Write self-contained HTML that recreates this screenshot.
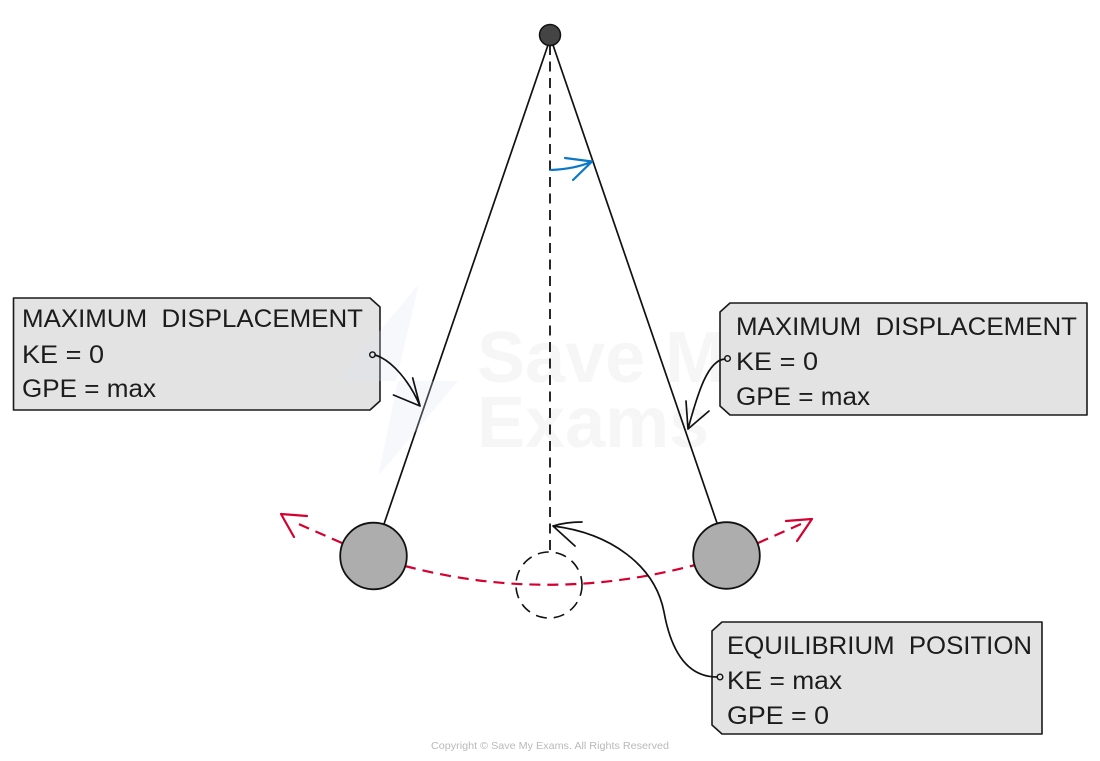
<!DOCTYPE html>
<html>
<head>
<meta charset="utf-8">
<style>
html,body{margin:0;padding:0;background:#fff;width:1100px;height:761px;overflow:hidden}
svg{display:block}
text{font-family:"Liberation Sans",sans-serif;white-space:pre}
.t{font-size:25px;fill:#1c1c1c}
.k{fill:none;stroke:#111;stroke-width:1.7;stroke-linecap:round;stroke-linejoin:round}
.b{fill:#e3e3e3;stroke:#1a1a1a;stroke-width:1.6;stroke-linejoin:round}
.r{fill:none;stroke:#d5002f;stroke-width:2.2;stroke-dasharray:11 7}
.rh{fill:none;stroke:#d5002f;stroke-width:2.2;stroke-linecap:round;stroke-linejoin:round}
</style>
</head>
<body>
<svg width="1100" height="761" viewBox="0 0 1100 761" xmlns="http://www.w3.org/2000/svg">
<text x="477" y="382" font-size="72" font-weight="bold" fill="#f6f6f6">Save My</text>
<text x="477" y="447" font-size="72" font-weight="bold" fill="#f6f6f6">Exams</text>

<!-- pendulum strings -->
<line x1="548" y1="45" x2="384" y2="524" class="k"/>
<line x1="553" y1="45" x2="717" y2="523" class="k"/>
<line x1="550" y1="45" x2="550" y2="552" fill="none" stroke="#111" stroke-width="1.8" stroke-dasharray="10 6.5"/>

<!-- red path -->
<path d="M405,566 Q549,604 695,565" class="r"/>
<path d="M342,543 L294,522" class="r"/>
<path d="M758,543 L801,524" class="r"/>
<path d="M307,516 L281,514 L294,537" class="rh"/>
<path d="M786,521 L812,519 L797,541" class="rh"/>

<!-- balls -->
<circle cx="549" cy="585" r="33" fill="none" stroke="#111" stroke-width="1.6" stroke-dasharray="11 7"/>
<circle cx="373.5" cy="556" r="33.3" fill="#adadad" stroke="#111" stroke-width="1.8"/>
<circle cx="726.5" cy="555.5" r="33.3" fill="#adadad" stroke="#111" stroke-width="1.8"/>
<circle cx="550" cy="35" r="10.5" fill="#444" stroke="#111" stroke-width="1.5"/>

<!-- blue arrow -->
<path d="M551,170 Q575,169 592,161.5 M565,158 L592,161.5 L573,180" fill="none" stroke="#0a78c8" stroke-width="2.2" stroke-linecap="round" stroke-linejoin="round"/>

<!-- boxes -->
<polygon class="b" points="13.5,298 370,298 380,307 380,401 370,410 13.5,410"/>
<polygon class="b" points="730,303 1087,303 1087,415 730,415 720,406 720,312"/>
<polygon class="b" points="722,622 1042,622 1042,734 722,734 712,725 712,631"/>

<!-- bolt watermark -->
<polygon points="419,284 338,381 398,381 378,476 458,381 396,381" fill="#dfe3f4" opacity="0.25"/>

<!-- text -->
<text class="t" x="22" y="327" textLength="341" lengthAdjust="spacingAndGlyphs">MAXIMUM  DISPLACEMENT</text>
<text class="t" x="22" y="363" textLength="82" lengthAdjust="spacingAndGlyphs">KE = 0</text>
<text class="t" x="22" y="397" textLength="134" lengthAdjust="spacingAndGlyphs">GPE = max</text>

<text class="t" x="736" y="335" textLength="341" lengthAdjust="spacingAndGlyphs">MAXIMUM  DISPLACEMENT</text>
<text class="t" x="736" y="370" textLength="82" lengthAdjust="spacingAndGlyphs">KE = 0</text>
<text class="t" x="736" y="405" textLength="134" lengthAdjust="spacingAndGlyphs">GPE = max</text>

<text class="t" x="727" y="654" textLength="305" lengthAdjust="spacingAndGlyphs">EQUILIBRIUM  POSITION</text>
<text class="t" x="727" y="689" textLength="115" lengthAdjust="spacingAndGlyphs">KE = max</text>
<text class="t" x="727" y="724" textLength="102" lengthAdjust="spacingAndGlyphs">GPE = 0</text>

<!-- callouts -->
<path class="k" d="M375,355 C392,360 410,382 420,406 M412.7,378 L420,406 L393.5,395"/>
<circle cx="372.5" cy="354.7" r="2.8" fill="none" stroke="#111" stroke-width="1.4"/>
<path class="k" d="M725,359 C708,360 698,392 688,429 M686,401 L688,429 L709,411"/>
<circle cx="727.5" cy="358.5" r="2.8" fill="none" stroke="#111" stroke-width="1.4"/>
<path class="k" d="M717,677 C684,677 670,645 664,612 C655,565 610,533 553,526 M582,522 Q566,522 553,526 L575,546"/>
<circle cx="720" cy="677" r="2.8" fill="none" stroke="#111" stroke-width="1.4"/>

<text x="550" y="749" font-size="10.5" fill="#b9b9b9" text-anchor="middle" textLength="238" lengthAdjust="spacingAndGlyphs">Copyright © Save My Exams. All Rights Reserved</text>
</svg>
</body>
</html>
